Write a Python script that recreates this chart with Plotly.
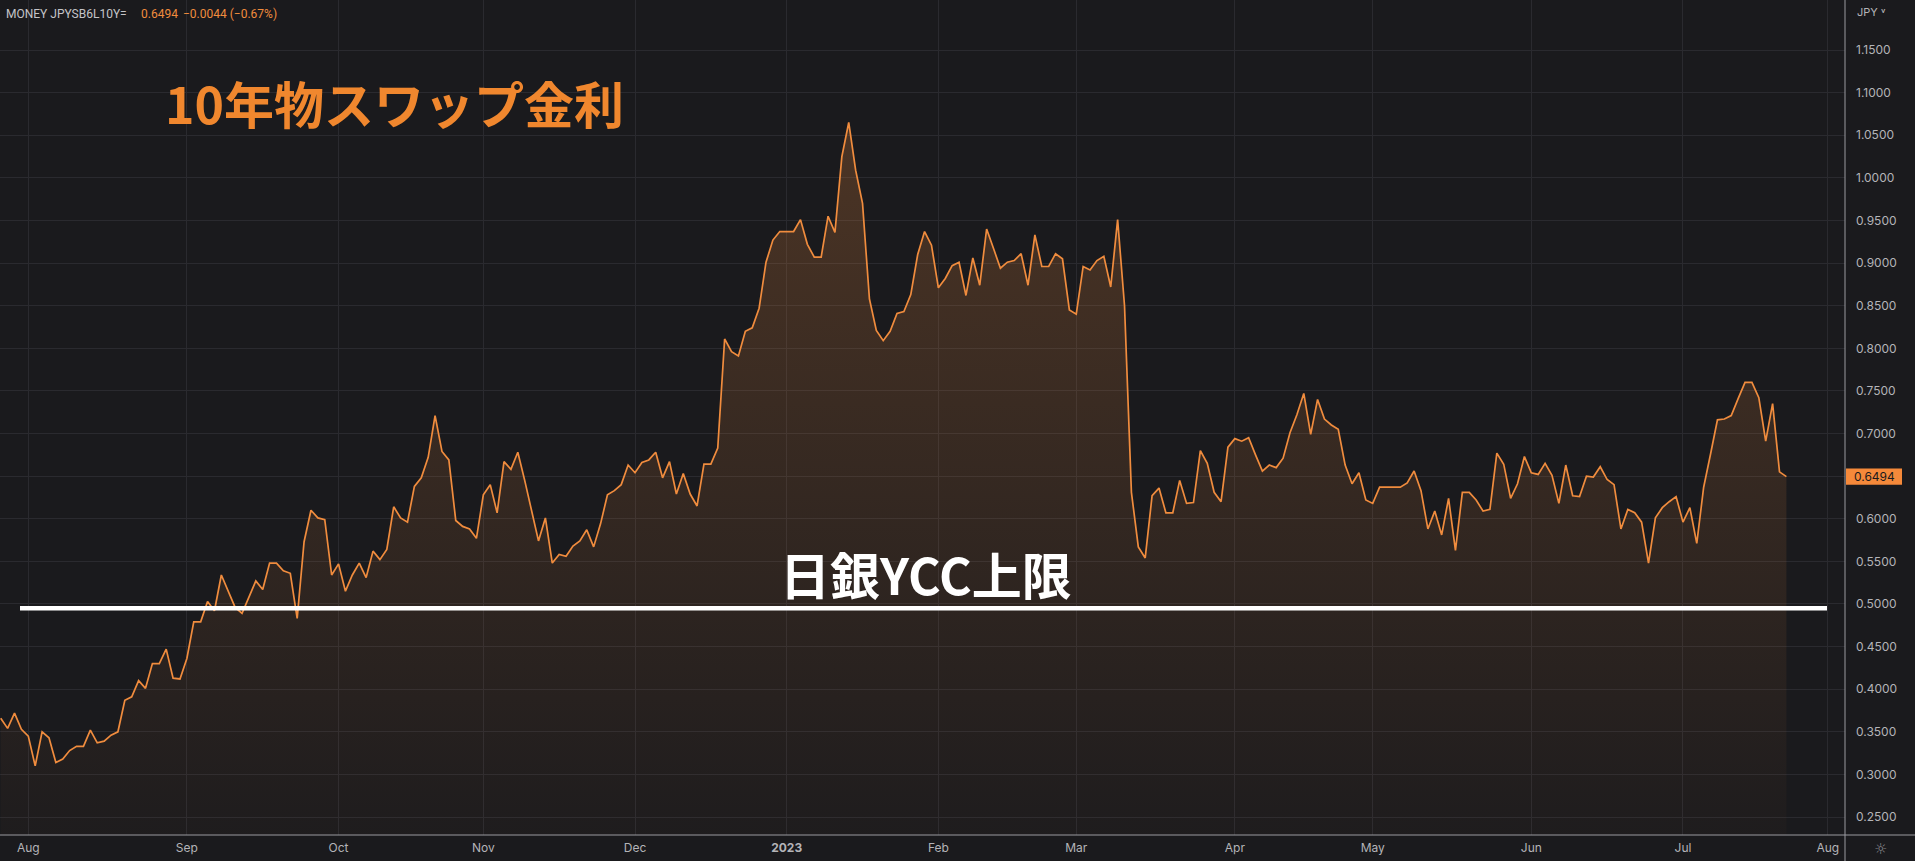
import pandas as pd
import plotly.graph_objects as go

# ---- data ----
start_date = "2022-07-26"
swap_10y = [
    0.366, 0.354, 0.372, 0.353,
    0.345, 0.310, 0.350, 0.343, 0.314, 0.318, 0.328, 0.333, 0.333, 0.352,
    0.337, 0.339, 0.346, 0.350, 0.387, 0.391, 0.410, 0.401, 0.430, 0.430,
    0.447, 0.413, 0.412, 0.436, 0.479, 0.479, 0.503, 0.492, 0.534, 0.515,
    0.496, 0.489, 0.508, 0.527, 0.517, 0.548, 0.548, 0.539, 0.536, 0.483,
    0.573, 0.610, 0.601, 0.599, 0.534, 0.547, 0.515, 0.534, 0.548, 0.531,
    0.562, 0.552, 0.564, 0.614, 0.601, 0.596, 0.638, 0.648, 0.672, 0.721,
    0.679, 0.669, 0.598, 0.591, 0.588, 0.577, 0.628, 0.640, 0.607, 0.667,
    0.658, 0.678, 0.645, 0.610, 0.574, 0.601, 0.548, 0.558, 0.556, 0.568,
    0.574, 0.587, 0.567, 0.594, 0.628, 0.633, 0.640, 0.663, 0.654, 0.666,
    0.669, 0.678, 0.648, 0.667, 0.629, 0.653, 0.629, 0.615, 0.664, 0.664,
    0.683, 0.811, 0.796, 0.791, 0.820, 0.824, 0.847, 0.901, 0.927, 0.937,
    0.937, 0.937, 0.951, 0.922, 0.907, 0.907, 0.955, 0.936, 1.025, 1.065,
    1.009, 0.970, 0.858, 0.821, 0.809, 0.820, 0.841, 0.843, 0.863, 0.910,
    0.937, 0.921, 0.871, 0.882, 0.897, 0.901, 0.862, 0.906, 0.874, 0.940,
    0.917, 0.894, 0.901, 0.903, 0.911, 0.874, 0.933, 0.896, 0.896, 0.911,
    0.905, 0.845, 0.840, 0.896, 0.892, 0.903, 0.908, 0.872, 0.951, 0.850,
    0.631, 0.567, 0.554, 0.627, 0.636, 0.607, 0.607, 0.645, 0.618, 0.619,
    0.680, 0.665, 0.631, 0.620, 0.684, 0.694, 0.691, 0.695, 0.675, 0.656,
    0.663, 0.660, 0.671, 0.701, 0.722, 0.747, 0.699, 0.740, 0.717, 0.710,
    0.705, 0.663, 0.641, 0.654, 0.622, 0.618, 0.637, 0.637, 0.637, 0.637,
    0.642, 0.656, 0.633, 0.588, 0.609, 0.581, 0.624, 0.563, 0.631, 0.631,
    0.622, 0.609, 0.611, 0.677, 0.664, 0.624, 0.641, 0.673, 0.654, 0.652,
    0.665, 0.651, 0.618, 0.663, 0.627, 0.626, 0.650, 0.649, 0.661, 0.646,
    0.640, 0.588, 0.611, 0.607, 0.596, 0.548, 0.601, 0.613, 0.620, 0.626,
    0.596, 0.613, 0.571, 0.637, 0.676, 0.716, 0.717, 0.721, 0.741, 0.760,
    0.760, 0.742, 0.691, 0.735, 0.655, 0.6494,
]
dates = pd.bdate_range(start_date, periods=len(swap_10y))

month_ticks = ["2022-08-01", "2022-09-01", "2022-10-03", "2022-11-01", "2022-12-01",
               "2023-01-02", "2023-02-01", "2023-03-01", "2023-04-03", "2023-05-01",
               "2023-06-01", "2023-07-03", "2023-08-01"]
month_labels = ["Aug", "Sep", "Oct", "Nov", "Dec", "<b>2023</b>", "Feb", "Mar", "Apr",
                "May", "Jun", "Jul", "Aug"]
y_ticks = [0.25, 0.30, 0.35, 0.40, 0.45, 0.50, 0.55, 0.60, 0.65, 0.70, 0.75,
           0.80, 0.85, 0.90, 0.95, 1.00, 1.05, 1.10, 1.15]
last_value = 0.6494
ycc_cap = 0.495
title_text = "10年物スワップ金利"
cap_text = "日銀YCC上限"

# ---- style ----
BG = "#1a1a1d"
GRID = "#2a2a2f"
ORANGE = "#f08c3e"
TXT = "#b4b4b8"
HDR_FONT = "Roboto, Inter, sans-serif"

fig = go.Figure()
fig.add_trace(go.Scatter(
    x=dates, y=swap_10y, mode="lines",
    line=dict(color=ORANGE, width=1.7),
    fill="tozeroy",
    fillgradient=dict(type="vertical",
                      colorscale=[[0, "rgba(240,140,62,0.02)"], [1, "rgba(240,140,62,0.27)"]],
                      start=0.2289, stop=1.2087),
    hoverinfo="skip", showlegend=False,
))

fig.update_layout(
    width=1915, height=861,
    margin=dict(l=0, r=70, t=0, b=26),
    paper_bgcolor=BG, plot_bgcolor=BG,
    font=dict(family="Inter, Roboto, sans-serif", color=TXT, size=12),
    showlegend=False,
)
fig.update_xaxes(
    type="date",
    rangebreaks=[dict(bounds=["sat", "mon"])],
    range=["2022-07-25 21:30", "2023-08-03 12:00"],
    tickmode="array", tickvals=month_ticks, ticktext=month_labels,
    showgrid=True, gridcolor=GRID, gridwidth=1,
    showline=False, zeroline=False, ticks="",
    tickfont=dict(size=12, color=TXT), ticklabelstandoff=4,
)
fig.update_yaxes(
    side="right", range=[0.2289, 1.2087],
    tickmode="array", tickvals=y_ticks, ticktext=[f"{v:.4f}" for v in y_ticks],
    showgrid=True, gridcolor=GRID, gridwidth=1,
    showline=False, zeroline=False, ticks="",
    tickfont=dict(size=12, color=TXT), ticklabelstandoff=10,
)

# axis frame lines
fig.add_shape(type="line", xref="paper", yref="paper", x0=0, x1=1915/1845, y0=0, y1=0,
              line=dict(color="#9a9aa0", width=1))
fig.add_shape(type="line", xref="paper", yref="paper", x0=1, x1=1, y0=-26/835, y1=1,
              line=dict(color="#9a9aa0", width=1))

# YCC cap line
fig.add_shape(type="line", xref="paper", yref="y", x0=20/1845, x1=1827/1845,
              y0=ycc_cap, y1=ycc_cap, line=dict(color="white", width=4.5))

# last price tag
fig.add_shape(type="rect", xref="paper", yref="y", x0=1846/1845, x1=1902/1845,
              y0=last_value - 0.0095, y1=last_value + 0.0095,
              fillcolor="#f5893a", line=dict(width=0))
fig.add_annotation(xref="paper", yref="y", x=1874/1845, y=last_value, text=f"{last_value:.4f}",
                   showarrow=False, xanchor="center", yanchor="middle",
                   font=dict(size=12, color="#1a1a1d"))

# header texts
fig.add_annotation(xref="paper", yref="paper", x=4/1845, y=1 - 14/835, text="MONEY JPYSB6L10Y=",
                   showarrow=False, xanchor="left", yanchor="middle",
                   font=dict(family=HDR_FONT, size=12, color="#c4c4c8"))
fig.add_annotation(xref="paper", yref="paper", x=139/1845, y=1 - 14/835, text=f"{last_value:.4f}",
                   showarrow=False, xanchor="left", yanchor="middle",
                   font=dict(family=HDR_FONT, size=12, color=ORANGE))
fig.add_annotation(xref="paper", yref="paper", x=181/1845, y=1 - 14/835, text="−0.0044 (−0.67%)",
                   showarrow=False, xanchor="left", yanchor="middle",
                   font=dict(family=HDR_FONT, size=12, color=ORANGE))
fig.add_annotation(xref="paper", yref="paper", x=1855/1845, y=1 - 12/835, text="JPY ˅",
                   showarrow=False, xanchor="left", yanchor="middle",
                   font=dict(size=11, color=TXT))
fig.add_annotation(xref="paper", yref="paper", x=1880/1845, y=-14/835, text="☼",
                   showarrow=False, xanchor="center", yanchor="middle",
                   font=dict(family="DejaVu Sans", size=15, color="#8a8a90"))

# chart texts
fig.add_annotation(xref="paper", yref="paper", x=394/1845, y=1 - 102/835, text=title_text,
                   showarrow=False, xanchor="center", yanchor="middle",
                   font=dict(family="Noto Sans CJK JP", size=50, color="#f0872e", weight="bold"))
fig.add_annotation(xref="paper", yref="paper", x=926/1845, y=1 - 573/835, text=cap_text,
                   showarrow=False, xanchor="center", yanchor="middle",
                   font=dict(family="Noto Sans CJK JP", size=50, color="white", weight="bold"))

fig.write_html("out.html", config={"displayModeBar": False},
               post_script="document.body.style.margin='0';document.body.style.overflow='hidden';")
